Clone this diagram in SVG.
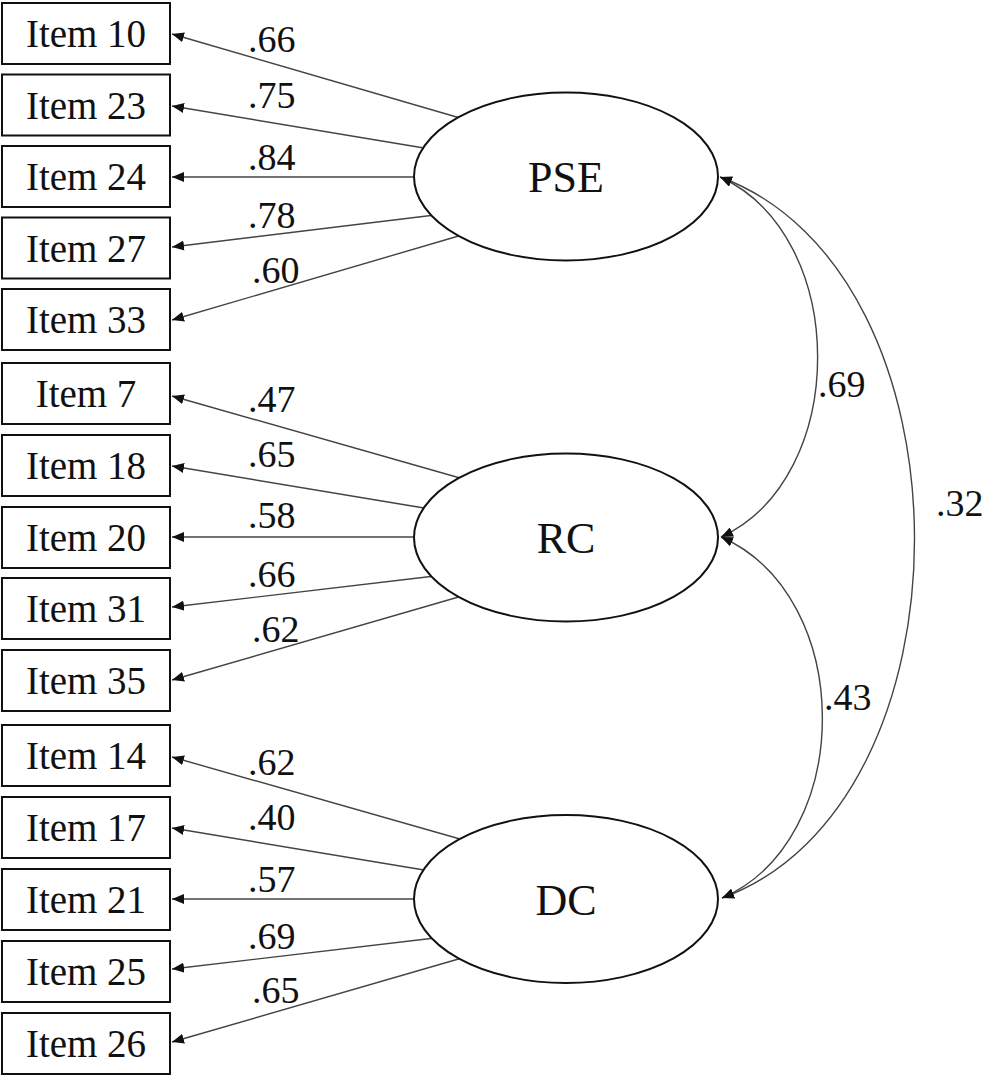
<svg xmlns="http://www.w3.org/2000/svg" width="986" height="1077" viewBox="0 0 986 1077">
<defs>
<style>
.box{fill:#fff;stroke:#111;stroke-width:2}
.lat{fill:#fff;stroke:#111;stroke-width:2}
.it{font-family:"Liberation Serif","Times New Roman",serif;font-size:39px;fill:#111;text-anchor:middle}
.lt{font-family:"Liberation Serif","Times New Roman",serif;font-size:44px;fill:#111;text-anchor:middle}
.lb{font-family:"Liberation Serif","Times New Roman",serif;font-size:38px;fill:#111}
.ln{fill:none;stroke:#444;stroke-width:1.4}
</style>
<marker id="ah" markerUnits="userSpaceOnUse" viewBox="0 0 12 10" refX="12" refY="5" markerWidth="12" markerHeight="10" orient="auto-start-reverse">
<path d="M0,0 L12,5 L0,10 Z" fill="#111"/>
</marker>
</defs>
<rect width="986" height="1077" fill="#fff"/>
<g id="connectors">
<line class="ln" x1="460" y1="118" x2="172" y2="34" marker-end="url(#ah)"/>
<line class="ln" x1="430" y1="149" x2="172" y2="106" marker-end="url(#ah)"/>
<line class="ln" x1="425" y1="177" x2="172" y2="177" marker-end="url(#ah)"/>
<line class="ln" x1="435" y1="215" x2="172" y2="247" marker-end="url(#ah)"/>
<line class="ln" x1="462" y1="235" x2="172" y2="320" marker-end="url(#ah)"/>

<line class="ln" x1="460" y1="478" x2="172" y2="396" marker-end="url(#ah)"/>
<line class="ln" x1="430" y1="509" x2="172" y2="466" marker-end="url(#ah)"/>
<line class="ln" x1="425" y1="537" x2="172" y2="537" marker-end="url(#ah)"/>
<line class="ln" x1="435" y1="576" x2="172" y2="607" marker-end="url(#ah)"/>
<line class="ln" x1="462" y1="596" x2="172" y2="680" marker-end="url(#ah)"/>

<line class="ln" x1="460" y1="839" x2="172" y2="757" marker-end="url(#ah)"/>
<line class="ln" x1="430" y1="871" x2="172" y2="828" marker-end="url(#ah)"/>
<line class="ln" x1="425" y1="899" x2="172" y2="899" marker-end="url(#ah)"/>
<line class="ln" x1="435" y1="938" x2="172" y2="969" marker-end="url(#ah)"/>
<line class="ln" x1="462" y1="958" x2="172" y2="1042" marker-end="url(#ah)"/>

<path class="ln" d="M720,177 C850,236 850,478 721,537" marker-start="url(#ah)" marker-end="url(#ah)"/>
<path class="ln" d="M721,537 C856,596 856,840 722,898" marker-start="url(#ah)" marker-end="url(#ah)"/>
<path class="ln" d="M720,177 C979,272 979,805 722,898" marker-start="url(#ah)" marker-end="url(#ah)"/>
</g>
<g id="labels">
<text class="lb" x="248" y="52">.66</text>
<text class="lb" x="248" y="108">.75</text>
<text class="lb" x="248" y="170">.84</text>
<text class="lb" x="248" y="228">.78</text>
<text class="lb" x="252" y="283">.60</text>
<text class="lb" x="248" y="412">.47</text>
<text class="lb" x="248" y="467">.65</text>
<text class="lb" x="248" y="528">.58</text>
<text class="lb" x="248" y="587">.66</text>
<text class="lb" x="252" y="642">.62</text>
<text class="lb" x="248" y="775">.62</text>
<text class="lb" x="248" y="830">.40</text>
<text class="lb" x="248" y="892">.57</text>
<text class="lb" x="248" y="949">.69</text>
<text class="lb" x="252" y="1003">.65</text>
<text class="lb" x="818" y="397">.69</text>
<text class="lb" x="824" y="710">.43</text>
<text class="lb" x="936" y="516">.32</text>
</g>
<g id="PSE"><ellipse class="lat" cx="566" cy="176.5" rx="152" ry="84"/><text class="lt" x="566" y="192">PSE</text></g>
<g id="RC"><ellipse class="lat" cx="566" cy="537.5" rx="152" ry="84"/><text class="lt" x="566" y="553">RC</text></g>
<g id="DC"><ellipse class="lat" cx="566" cy="899" rx="152" ry="84"/><text class="lt" x="566" y="915">DC</text></g>
<g id="item10"><rect class="box" x="2" y="3" width="168" height="61"/><text class="it" x="86" y="47">Item 10</text></g>
<g id="item23"><rect class="box" x="2" y="74.5" width="168" height="61"/><text class="it" x="86" y="119">Item 23</text></g>
<g id="item24"><rect class="box" x="2" y="146" width="168" height="61"/><text class="it" x="86" y="190">Item 24</text></g>
<g id="item27"><rect class="box" x="2" y="217.5" width="168" height="61"/><text class="it" x="86" y="262">Item 27</text></g>
<g id="item33"><rect class="box" x="2" y="289" width="168" height="61"/><text class="it" x="86" y="333">Item 33</text></g>
<g id="item7"><rect class="box" x="2" y="363" width="168" height="61"/><text class="it" x="86" y="407">Item 7</text></g>
<g id="item18"><rect class="box" x="2" y="435" width="168" height="61"/><text class="it" x="86" y="479">Item 18</text></g>
<g id="item20"><rect class="box" x="2" y="507" width="168" height="61"/><text class="it" x="86" y="551">Item 20</text></g>
<g id="item31"><rect class="box" x="2" y="578" width="168" height="61"/><text class="it" x="86" y="622">Item 31</text></g>
<g id="item35"><rect class="box" x="2" y="650" width="168" height="61"/><text class="it" x="86" y="694">Item 35</text></g>
<g id="item14"><rect class="box" x="2" y="725" width="168" height="61"/><text class="it" x="86" y="769">Item 14</text></g>
<g id="item17"><rect class="box" x="2" y="797" width="168" height="61"/><text class="it" x="86" y="841">Item 17</text></g>
<g id="item21"><rect class="box" x="2" y="869" width="168" height="61"/><text class="it" x="86" y="913">Item 21</text></g>
<g id="item25"><rect class="box" x="2" y="941" width="168" height="61"/><text class="it" x="86" y="985">Item 25</text></g>
<g id="item26"><rect class="box" x="2" y="1013" width="168" height="61"/><text class="it" x="86" y="1057">Item 26</text></g>
</svg>
